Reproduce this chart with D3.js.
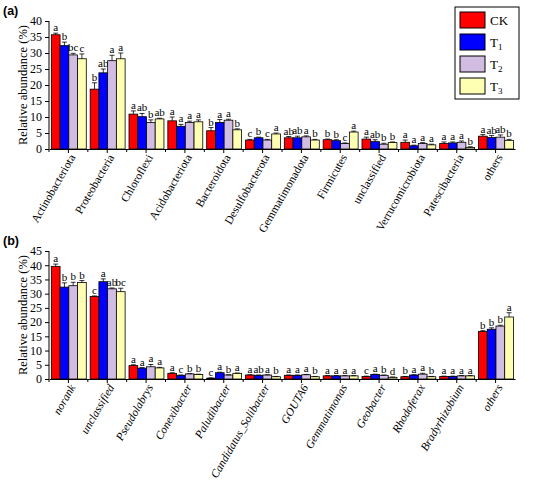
<!DOCTYPE html><html><head><meta charset="utf-8"><script src="https://cdn.jsdelivr.net/npm/d3@7"></script>
<style>body{margin:0;background:#fff}svg{font-family:"Liberation Serif","Times New Roman",serif}</style></head><body><svg id="c" width="550" height="487"></svg><script>
const series=["CK","T1","T2","T3"];
const colors=["#ff0000","#0000ff","#d2bde2","#ffffb3"];
const catsA=["Actinobacteriota","Proteobacteria","Chloroflexi","Acidobacteriota","Bacteroidota","Desulfobacterota","Gemmatimonadota","Firmicutes","unclassified","Verrucomicrobiota","Patescibacteria","others"];
const valsA=[[35.7,32.3,29.4,28.2],[18.7,23.8,27.6,28.2],[10.9,10.1,8.3,9.4],[8.8,7.1,8.3,8.5],[5.7,8.3,9.0,6.0],[2.8,3.5,2.8,4.7],[3.5,3.5,3.8,2.8],[2.9,2.6,1.7,5.3],[3.1,2.3,1.5,2.0],[2.1,1.0,1.7,1.3],[1.7,1.9,2.1,0.5],[4.0,3.6,3.7,2.7]];
const errA=[[0.5,1.1,0.5,1.5],[2.0,1.2,1.7,1.8],[1.0,1.0,0.8,0.2],[1.2,0.6,0.4,0.6],[1.0,0.9,0.3,0.3],[0.2,0.2,0.2,0.3],[0.4,0.5,0.3,0.2],[0.2,0.3,0.2,0.3],[0.6,0.6,0.3,0.2],[0.7,0.2,0.3,0.2],[0.5,0.3,0.4,0.2],[0.5,0.6,0.7,0.3]];
const letA=[["a","b","bc","c"],["b","ab","a","a"],["a","ab","b","ab"],["a","a","a","a"],["b","a","a","b"],["c","b","c","a"],["ab","ab","a","b"],["b","b","c","a"],["a","ab","b","b"],["a","a","a","a"],["a","a","a","b"],["a","ab","ab","b"]];
const catsB=["norank","unclassified","Pseudolabrys","Conexibacter","Paludibacter","Candidatus_Solibacter","GOUTA6","Gemmatimonas","Geobacter","Rhodoferax","Bradyrhizobium","others"];
const valsB=[[39.6,32.3,32.8,33.9],[29.0,34.2,31.7,30.7],[4.7,3.8,4.3,3.9],[2.0,1.3,1.8,1.6],[0.3,2.2,1.4,2.0],[1.4,1.3,1.4,0.8],[1.3,1.3,1.5,0.8],[1.1,1.1,1.1,1.1],[0.9,1.6,1.3,0.6],[0.8,1.4,1.7,0.8],[0.9,0.9,1.1,1.1],[16.7,17.5,18.6,21.8]];
const errB=[[0.8,1.5,1.2,0.7],[0.2,1.0,0.3,1.2],[0.3,0.2,0.8,0.2],[0.2,0.1,0.1,0.1],[0.1,0.2,0.1,0.1],[0.1,0.1,0.1,0.1],[0.1,0.1,0.1,0.1],[0.1,0.1,0.1,0.1],[0.1,0.1,0.1,0.1],[0.1,0.1,0.3,0.1],[0.1,0.1,0.1,0.1],[0.3,0.5,0.3,1.5]];
const letB=[["a","b","b","b"],["c","a","ab","bc"],["a","a","a","a"],["a","c","b","b"],["c","a","b","a"],["a","ab","a","b"],["a","a","a","b"],["a","a","a","a"],["c","a","b","d"],["b","a","a","b"],["a","a","a","a"],["b","b","b","a"]];
const ticksA=d3.range(0,41,5), ticksB=d3.range(0,46,5);
const svg=d3.select("#c");
function panel(tag,cats,vals,errs,lets,ticks,ymax,top,bottom,italic){
  const x=d3.scaleBand().domain(cats).range([49,515]);
  const xi=d3.scaleBand().domain(series).range([x.bandwidth()*0.06,x.bandwidth()*0.96]);
  const y=d3.scaleLinear().domain([0,ymax]).range([bottom,top]);
  const g=svg.append("g");
  g.append("g").attr("transform","translate(49,0)").call(d3.axisLeft(y).tickValues(ticks).tickSize(4).tickSizeOuter(0))
   .call(a=>{a.selectAll("text").style("font-size","12px").style("font-family","Liberation Serif");a.select(".domain").attr("d",`M-0,${bottom}V${top}`);});
  const xa=g.append("g").attr("transform",`translate(0,${bottom})`).call(d3.axisBottom(x).tickSize(4).tickSizeOuter(0));
  xa.selectAll("text").attr("transform","rotate(-60)").attr("text-anchor","end").attr("dx","-0.3em").attr("dy","0.3em")
    .style("font-size","11.5px").style("font-family","Liberation Serif").style("font-style",italic?"italic":"normal");
  cats.forEach(c=>g.append("line").attr("x1",x(c)).attr("x2",x(c)).attr("y1",bottom).attr("y2",bottom+3).attr("stroke","#000"));
  g.append("text").attr("x",27).attr("y",(top+bottom)/2).attr("transform",`rotate(-90,27,${(top+bottom)/2})`).attr("text-anchor","middle").style("font-size","12.5px").text("Relative abundance (%)");
  g.append("text").attr("x",3).attr("y",top-6).style("font-size","12.5px").style("font-weight","bold").style("font-family","Liberation Sans").text(tag);
  cats.forEach((c,i)=>series.forEach((s,j)=>{
    const bx=x(c)+xi(s), w=xi.bandwidth(), v=vals[i][j], e=errs[i][j];
    g.append("rect").attr("x",bx).attr("y",y(v)).attr("width",w).attr("height",bottom-y(v)).attr("fill",colors[j]).attr("stroke","#000").attr("stroke-width",0.8);
    const cx=bx+w/2;
    g.append("path").attr("d",`M${cx},${y(v)}V${y(v+e)}M${cx-2.5},${y(v+e)}H${cx+2.5}`).attr("stroke","#000").attr("stroke-width",0.8).attr("fill","none");
    g.append("text").attr("x",cx).attr("y",y(v+e)-2).attr("text-anchor","middle").style("font-size","11px").text(lets[i][j]);
  }));
}
panel("(a)",catsA,valsA,errA,letA,ticksA,40,21,149,false);
panel("(b)",catsB,valsB,errB,letB,ticksB,45,251,379,true);
const lg=svg.append("g");
lg.append("rect").attr("x",455).attr("y",7).attr("width",64).attr("height",92).attr("fill","#fff").attr("stroke","#000");
series.forEach((s,j)=>{
  const yy=12+j*22;
  lg.append("rect").attr("x",460).attr("y",yy).attr("width",25).attr("height",16).attr("fill",colors[j]).attr("stroke","#000");
  const t=lg.append("text").attr("x",490).attr("y",yy+13).style("font-size","13px");
  if(s==="CK") t.text("CK"); else {t.text("T");t.append("tspan").attr("dy",3).style("font-size","9px").text(s.slice(1));}
});
</script></body></html>
